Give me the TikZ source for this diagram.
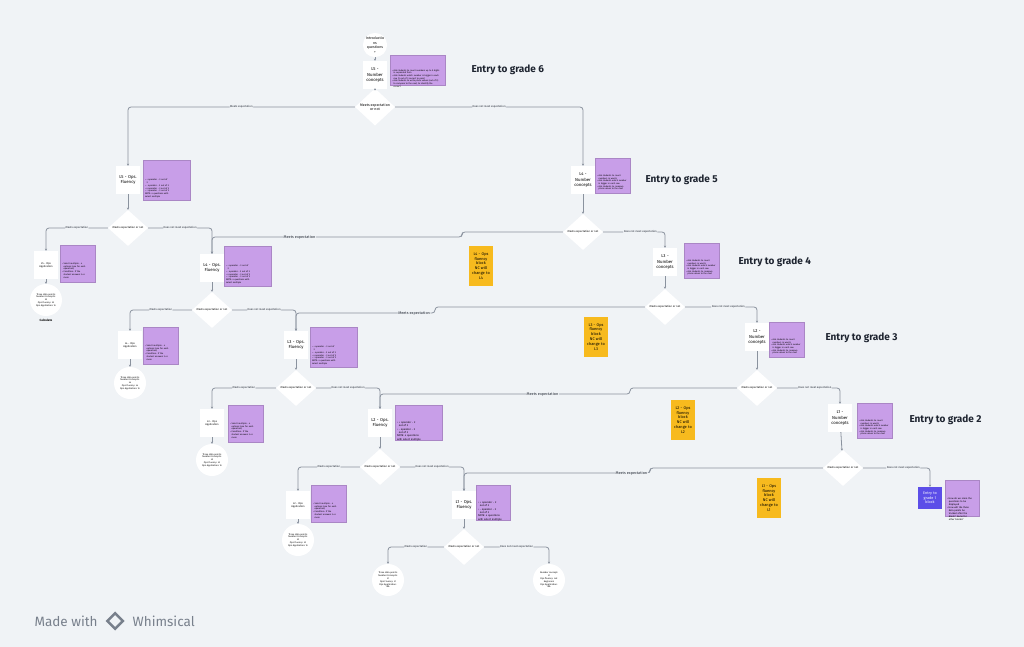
\documentclass[tikz,border=0pt]{standalone}
\usepackage{fontspec}
\setmainfont{Fira Sans}
\usetikzlibrary{shapes.geometric,arrows.meta,positioning,calc}
\definecolor{canvas}{RGB}{240,243,246}
\definecolor{notepurple}{RGB}{200,158,232}
\definecolor{blockorange}{RGB}{247,186,30}
\definecolor{entryblue}{RGB}{92,78,232}
\definecolor{linegray}{RGB}{138,146,158}
\definecolor{markgray}{RGB}{120,128,140}
\definecolor{inkdark}{RGB}{30,36,48}

\tikzset{
  box/.style={fill=white,align=center,font=\fontsize{4.3}{5.4}\selectfont,text width=20,minimum width=24,minimum height=28,inner sep=1.5},
  note/.style={fill=notepurple,draw=notepurple!85!black,line width=0.3,anchor=north west,align=left,font=\fontsize{2.2}{2.7}\selectfont,inner sep=2,text depth=0pt},
  dec/.style={diamond,fill=white,minimum width=40,minimum height=36,inner sep=0,align=center,font=\fontsize{2.7}{3.2}\selectfont},
  dot/.style={circle,fill=white,minimum size=32,inner sep=0,align=center,font=\fontsize{2.3}{2.8}\selectfont},
  chip/.style={fill=blockorange,align=center,text width=22,minimum width=24,minimum height=40,inner sep=1,font=\fontsize{3.9}{4.9}\selectfont},
  grade/.style={anchor=west,font=\fontsize{10}{12}\selectfont\bfseries,text=inkdark},
  conn/.style={draw=linegray,line width=0.8,rounded corners=3,-{Stealth[length=2.2pt,width=2.2pt]}},
  tag/.style={fill=canvas,inner sep=0.6,font=\fontsize{2.7}{3}\selectfont,text=inkdark},
  bigtag/.style={fill=canvas,inner sep=0.8,font=\fontsize{3.8}{4}\selectfont,text=inkdark}
}

\begin{document}
\begin{tikzpicture}[x=1pt,y=-1pt]
\fill[canvas] (0,0) rectangle (1024,647);
\useasboundingbox (0,0) rectangle (1024,647);

% Grade 6 entry
\node[dot,minimum size=24,font=\fontsize{3.6}{4.4}\selectfont] (intro) at (375,45) {Introductio\\ns\\questions\\+};
\node[box] (l5nc) at (375,75) {L5 -\\Number\\concepts};
\node[note,text width=51,minimum height=30] (n5nc) at (390,55) {\textbullet\ Ask students to count numbers up to 9 digits\\ \ \ in expanded form\\\textbullet\ Ask students which number is bigger in each\\ \ \ row (3 out of 3 correct to pass)\\\textbullet\ Ask students to write place values (out of 3)\\ \ \ to compare to the next, to identify the\\ \ \ correct};
\node[grade] (g6) at (468,70) {Entry to grade 6};
\node[dec,font=\fontsize{3.6}{4.4}\selectfont] (d1) at (375,107) {Meets expectation\\or not};

% Level 5 ops
\node[box] (l5of) at (128,180) {L5 - Ops.\\Fluency};
\node[note,text width=43,minimum height=40] (n5of) at (143,160) {\textbullet\ + operator - 3 out of\\ \ \ 3\\\textbullet\ - operator - 3 out of 3\\\textbullet\ x operator - 3 out of 3\\\textbullet\ \textdiv\ operator - 3 out of 3\\NOTE: 4 questions with\\select multiple};
\node[dec] (d2) at (128,228) {Meets expectation or not};
\node[box,font=\fontsize{2.6}{3.2}\selectfont] (l5oa) at (46,265) {L5 - Ops\\Application};
\node[note,text width=31,minimum height=37] (n5oa) at (60,245) {\textbullet\ Select multiple - 4\\ \ \ options (one for each\\ \ \ operation)\\\textbullet\ Condition: If the\\ \ \ student answers 3 or\\ \ \ more};
\node[dot] (c5) at (46,300) {Three data points:\\Number Concepts:\\L5\\Ops Fluency: L5\\Ops Application: \%};
\node[font=\fontsize{3}{3.5}\selectfont\bfseries,below=1 of c5] (calc) {Calculate};

% Grade 5 entry
\node[box] (l4nc) at (583,180) {L4 -\\Number\\concepts};
\node[note,text width=31,minimum height=35] (n4nc) at (595,158) {\textbullet\ Ask students to count\\ \ \ numbers in words\\\textbullet\ Ask students which number\\ \ \ is bigger in each row\\\textbullet\ Ask students to compare\\ \ \ place values to the next};
\node[grade] (g5) at (642,180) {Entry to grade 5};
\node[dec] (d3) at (583,232) {Meets expectation or not};

% Level 4 ops
\node[box] (l4of) at (212,268) {L4 - Ops.\\Fluency};
\node[note,text width=43,minimum height=40] (n4of) at (224,246) {\textbullet\ + operator - 3 out of\\ \ \ 3\\\textbullet\ - operator - 3 out of 3\\\textbullet\ x operator - 3 out of 3\\\textbullet\ \textdiv\ operator - 3 out of 3\\NOTE: 4 questions with\\select multiple};
\node[chip] (k4) at (481,266) {L4 - Ops\\fluency\\block\\NC will\\change to\\L4};
\node[dec] (d4) at (212,310) {Meets expectation or not};
\node[box,font=\fontsize{2.6}{3.2}\selectfont] (l4oa) at (130,345) {L4 - Ops\\Application};
\node[note,text width=31,minimum height=37] (n4oa) at (143,327) {\textbullet\ Select multiple - 4\\ \ \ options (one for each\\ \ \ operation)\\\textbullet\ Condition: If the\\ \ \ student answers 3 or\\ \ \ more};
\node[dot] (c4) at (130,383) {Three data points:\\Number Concepts:\\L4\\Ops Fluency: L4\\Ops Application: \%};

% Grade 4 entry
\node[box] (l3nc) at (665,262) {L3 -\\Number\\concepts};
\node[note,text width=31,minimum height=35] (n3nc) at (684,243) {\textbullet\ Ask students to count\\ \ \ numbers in words\\\textbullet\ Ask students which number\\ \ \ is bigger in each row\\\textbullet\ Ask students to compare\\ \ \ place values to the next};
\node[grade] (g4) at (735,262) {Entry to grade 4};
\node[dec] (d5) at (665,307) {Meets expectation or not};

% Level 3 ops
\node[box] (l3of) at (296,345) {L3 - Ops.\\Fluency};
\node[note,text width=43,minimum height=40] (n3of) at (310,327) {\textbullet\ + operator - 3 out of\\ \ \ 3\\\textbullet\ - operator - 3 out of 3\\\textbullet\ x operator - 3 out of 3\\\textbullet\ \textdiv\ operator - 3 out of 3\\NOTE: 4 questions with\\select multiple};
\node[chip] (k3) at (596,337) {L3 - Ops\\fluency\\block\\NC will\\change to\\L3};
\node[dec] (d6) at (296,388) {Meets expectation or not};
\node[box,font=\fontsize{2.6}{3.2}\selectfont] (l3oa) at (212,423) {L3 - Ops\\Application};
\node[note,text width=31,minimum height=37] (n3oa) at (228,405) {\textbullet\ Select multiple - 4\\ \ \ options (one for each\\ \ \ operation)\\\textbullet\ Condition: If the\\ \ \ student answers 3 or\\ \ \ more};
\node[dot] (c3) at (212,460) {Three data points:\\Number Concepts:\\L3\\Ops Fluency: L3\\Ops Application: \%};

% Grade 3 entry
\node[box] (l2nc) at (757,337) {L2 -\\Number\\concepts};
\node[note,text width=31,minimum height=35] (n2nc) at (769,322) {\textbullet\ Ask students to count\\ \ \ numbers in words\\\textbullet\ Ask students which number\\ \ \ is bigger in each row\\\textbullet\ Ask students to compare\\ \ \ place values to the next};
\node[grade] (g3) at (822,338) {Entry to grade 3};
\node[dec] (d7) at (757,388) {Meets expectation or not};

% Level 2 ops
\node[box] (l2of) at (380,423) {L2 - Ops.\\Fluency};
\node[note,text width=43,minimum height=35,font=\fontsize{2.6}{3.3}\selectfont] (n2of) at (395,405) {\textbullet\ + operator - 2\\ \ \ out of 3\\\textbullet\ - operator - 2\\ \ \ out of 3\\NOTE: 4 questions\\with select multiple};
\node[chip] (k2) at (683,420) {L2 - Ops\\fluency\\block\\NC will\\change to\\L2};
\node[dec] (d8) at (380,467) {Meets expectation or not};
\node[box,font=\fontsize{2.6}{3.2}\selectfont] (l2oa) at (298,505) {L2 - Ops\\Application};
\node[note,text width=31,minimum height=37] (n2oa) at (311,485) {\textbullet\ Select multiple - 4\\ \ \ options (one for each\\ \ \ operation)\\\textbullet\ Condition: If the\\ \ \ student answers 3 or\\ \ \ more};
\node[dot] (c2) at (298,540) {Three data points:\\Number Concepts:\\L2\\Ops Fluency: L2\\Ops Application: \%};

% Grade 2 entry
\node[box] (l1nc) at (840,418) {L1 -\\Number\\concepts};
\node[note,text width=31,minimum height=35] (n1nc) at (857,403) {\textbullet\ Ask students to count\\ \ \ numbers in words\\\textbullet\ Ask students which number\\ \ \ is bigger in each row\\\textbullet\ Ask students to compare\\ \ \ place values to the next};
\node[grade] (g2) at (906,420) {Entry to grade 2};
\node[dec] (d9) at (843,468) {Meets expectation or not};
\node[box,fill=entryblue,text=white,minimum height=22,font=\fontsize{3.8}{4.6}\selectfont] (e1) at (930,498) {Entry to\\grade 1\\block};
\node[note,text width=30,minimum height=36,font=\fontsize{2.4}{3}\selectfont] (n1e) at (945,480) {\textbullet\ How do we score the\\ \ \ questions to be\\ \ \ displayed\\\textbullet\ How will the three\\ \ \ data points be\\ \ \ tracked after the\\ \ \ block? Same for\\ \ \ other blocks?};

% Level 1 ops
\node[box] (l1of) at (464,505) {L1 - Ops.\\Fluency};
\node[note,text width=30,minimum height=35,font=\fontsize{2.6}{3.3}\selectfont] (n1of) at (476,485) {\textbullet\ + operator - 2\\ \ \ out of 3\\\textbullet\ - operator - 2\\ \ \ out of 3\\NOTE: 4 questions\\with select multiple};
\node[chip] (k1) at (769,498) {L1 - Ops\\fluency\\block\\NC will\\change to\\L1};
\node[dec] (d10) at (464,547) {Meets expectation or not};
\node[dot] (c1a) at (388,580) {Three data points:\\Number Concepts:\\L1\\Ops Fluency: L1\\Ops Application:\\NA};
\node[dot] (c1b) at (549,580) {Number concept:\\L1\\Ops fluency: not\\beginners\\Ops Application:\\NA};

% Connectors down the spine
\foreach \a/\b in {intro/l5nc,l5nc/d1,l5of/d2,l4nc/d3,l4of/d4,l3nc/d5,l3of/d6,l2nc/d7,l2of/d8,l1nc/d9,l1of/d10,l5oa/c5,l4oa/c4,l3oa/c3,l2oa/c2}
  \draw[conn] (\a) -- (\b);

% Branches
\foreach \d/\l/\r in {d1/l5of/l4nc,d2/l5oa/l4of,d4/l4oa/l3of,d6/l3oa/l2of,d8/l2oa/l1of,d10/c1a/c1b}{
  \draw[conn] (\d.west) -| node[tag,pos=0.25] {Meets expectation} (\l.north);
  \draw[conn] (\d.east) -| node[tag,pos=0.25] {Does not meet expectation} (\r.north);
}
\foreach \d/\r in {d3/l3nc,d5/l2nc,d7/l1nc,d9/e1}
  \draw[conn] (\d.east) -| node[tag,pos=0.3] {Does not meet expectation} (\r.north);

% Meets expectation, back to ops
\draw[conn] (d3.west) -- (462,232) -- (462,237) -- node[bigtag,pos=0.65] {Meets expectation} (212,237) -- (l4of.north);
\draw[conn] (d5.west) -- (435,307) -- (435,313) -- node[bigtag,pos=0.15] {Meets expectation} (296,313) -- (l3of.north);
\draw[conn] (d7.west) -- (630,388) -- (630,394) -- node[bigtag,pos=0.35] {Meets expectation} (380,394) -- (l2of.north);
\draw[conn] (d9.west) -- (650,468) -- (650,473) -- node[bigtag,pos=0.1] {Meets expectation} (464,473) -- (l1of.north);

% Watermark
\node[anchor=west,font=\fontsize{13.5}{16}\selectfont,text=markgray] (made) at (31,621) {Made with};
\node[anchor=west,font=\fontsize{13.5}{16}\selectfont,text=markgray,right=28 of made] (whim) {Whimsical};
\node[draw=markgray,line width=2.5,rotate=45,minimum size=11,inner sep=0] (logo) at ($(made.east)!0.5!(whim.west)$) {};
\end{tikzpicture}
\end{document}
